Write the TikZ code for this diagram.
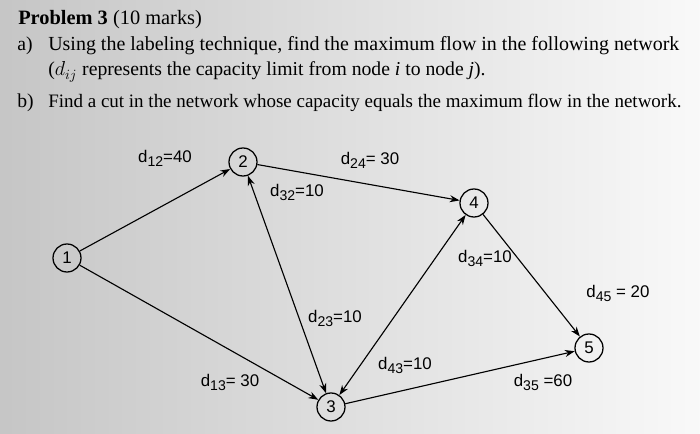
\documentclass[tikz,border=0pt]{standalone}
\usepackage{fontspec}
\setmainfont{Liberation Serif}
\newfontfamily\handfont{Liberation Sans}
\usetikzlibrary{arrows.meta, positioning}
\newcommand{\capsub}[1]{\raisebox{-0.45ex}{\normalsize #1}}

\begin{document}
\begin{tikzpicture}[x=0.025cm,y=0.025cm,
  vtx/.style={draw, circle, line width=0.9pt, minimum size=0.7cm, inner sep=0pt, font=\handfont\large},
  lab/.style={font=\handfont\large},
  edge/.style={line width=0.8pt, -{Stealth[length=7pt,width=5pt]}},
  txt/.style={anchor=base west, inner sep=0pt, font=\fontsize{14}{16}\selectfont}]
\shade[left color=gray!45, right color=gray!5] (0,0) rectangle (700,434);
\useasboundingbox (0,0) rectangle (700,434);

% problem text
\node[txt, font=\fontsize{14.5}{16}\selectfont] (title) at (18,409) {\textbf{Problem 3} (10 marks)};
\node[txt] (pa) at (17,383) {a)};
\node[txt, font=\fontsize{14.2}{16}\selectfont] (pa1) at (48,383) {Using the labeling technique, find the maximum flow in the following network};
\node[txt] (pa2) at (48,358) {($d_{ij}$ represents the capacity limit from node \textit{i} to node \textit{j}).};
\node[txt] (pb) at (17,326) {b)};
\node[txt, font=\fontsize{13.5}{16}\selectfont] (pb1) at (48,326) {Find a cut in the network whose capacity equals the maximum flow in the network.};

% network
\node[vtx] (n1) at (67,176) {1};
\node[vtx] (n2) at (243,272) {2};
\node[vtx] (n3) at (331,27) {3};
\node[vtx] (n4) at (474,231) {4};
\node[vtx] (n5) at (589,86) {5};

\draw[edge] (n1) -- (n2);
\draw[edge] (n1) -- (n3);
\draw[edge] (n2) -- (n4);
\draw[edge, {Stealth[length=7pt,width=5pt]}-{Stealth[length=7pt,width=5pt]}] (n3) -- (n2);
\draw[edge, {Stealth[length=7pt,width=5pt]}-{Stealth[length=7pt,width=5pt]}] (n3) -- (n4);
\draw[edge] (n4) -- (n5);
\draw[edge] (n3) -- (n5);

% capacities
\node[lab] (l12) at (165,276) {d\capsub{12}=40};
\node[lab] (l24) at (370,274) {d\capsub{24}= 30};
\node[lab] (l32) at (297,242) {d\capsub{32}=10};
\node[lab] (l34) at (485,176) {d\capsub{34}=10};
\node[lab] (l45) at (618,141) {d\capsub{45} = 20};
\node[lab] (l23) at (335,116) {d\capsub{23}=10};
\node[lab] (l43) at (405,69) {d\capsub{43}=10};
\node[lab] (l35) at (543,52) {d\capsub{35} =60};
\node[lab] (l13) at (230,52) {d\capsub{13}= 30};
\end{tikzpicture}
\end{document}
